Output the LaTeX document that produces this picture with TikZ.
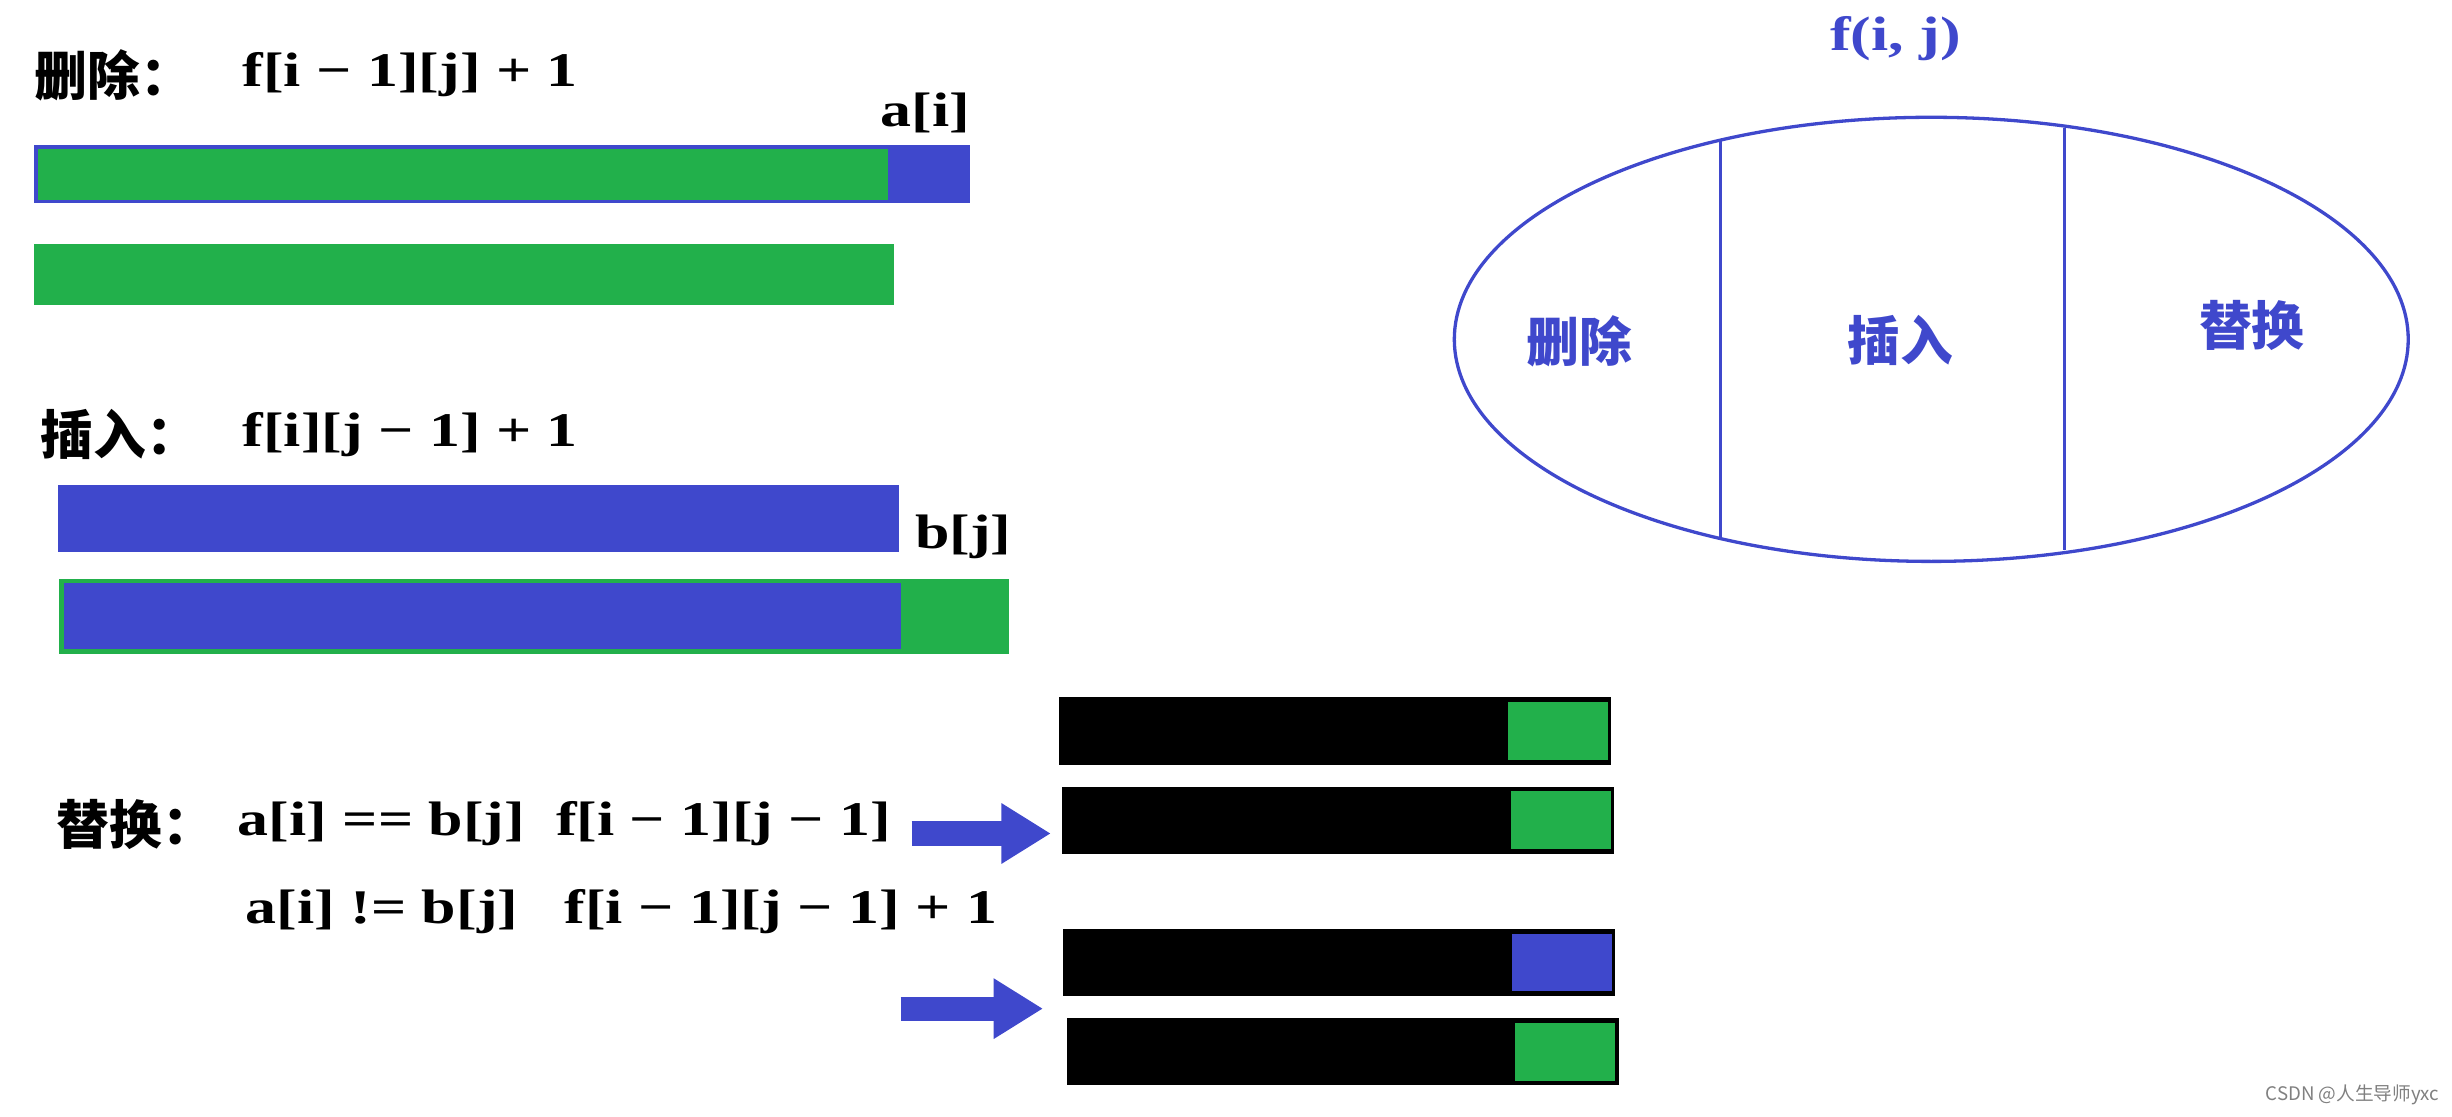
\documentclass[tikz,border=0pt]{standalone}
\usepackage{fontspec}
\setmainfont{Liberation Serif}
\newfontfamily\frm[FakeStretch=1.28]{Liberation Serif}
\newfontfamily\cjk{Noto Sans CJK SC}
\usetikzlibrary{arrows.meta}
\definecolor{gr}{HTML}{22B04B}
\definecolor{bl}{HTML}{3F48CC}
\begin{document}
\begin{tikzpicture}[x=0.05cm,y=-0.05cm,
  lab/.style={inner sep=0,anchor=west,font=\fontsize{44}{46}\selectfont\frm\bfseries},
  zh/.style={inner sep=0,anchor=west,font=\fontsize{48}{50}\selectfont\cjk\bfseries},
  bigarrow/.style={bl,line width=22,-{Triangle[length=45,width=52]}}]
\useasboundingbox (0,0) rectangle (1568,714);
% delete
\node[zh] (d1) at (22,48) {删除：};
\node[lab] (d2) at (155,48) {f[i − 1][j] + 1};
\node[lab] (ai) at (563,72) {a[i]};
\fill[gr] (22,93) rectangle (568,130);
\fill[bl] (568,93) rectangle (620,130);
\draw[bl,line width=3] (23,94) rectangle (619,129);
\fill[gr] (22,156) rectangle (572,195);
% insert
\node[zh] (i1) at (26,278) {插入：};
\node[lab] (i2) at (155,278) {f[i][j − 1] + 1};
\fill[bl] (37,310) rectangle (575,353);
\node[lab] (bj) at (585,343) {b[j]};
\fill[gr] (38,370) rectangle (645,418);
\fill[bl] (41,373) rectangle (576,415);
% replace
\node[zh] (r1) at (36,527) {替换：};
\node[lab] (r2) at (152,527) {a[i] == b[j]\ \ f[i − 1][j − 1]};
\node[lab] (r3) at (157,583) {a[i] != b[j]\ \ \ f[i − 1][j − 1] + 1};
\coordinate (a1s) at (583,533); \coordinate (a1e) at (672,533);
\coordinate (a2s) at (576,645); \coordinate (a2e) at (667,645);
\draw[bigarrow] (a1s) -- (a1e);
\draw[bigarrow] (a2s) -- (a2e);
\foreach \x/\y/\c in {677/446/gr,679/503/gr,680/594/bl,682/651/gr}{
  \fill[black] (\x,\y) rectangle (\x+353,\y+43);
  \fill[\c] (\x+287,\y+3) rectangle (\x+351,\y+40);
}
% ellipse
\draw[bl,line width=3] (1235,217) ellipse [x radius=305,y radius=142];
\draw[bl,line width=3] (1100,90) -- (1100,344);
\draw[bl,line width=3] (1320,82) -- (1320,352);
\node[zh,anchor=center,text=bl] (e1) at (1010,218) {删除};
\node[zh,anchor=center,text=bl] (e2) at (1215,218) {插入};
\node[zh,anchor=center,text=bl] (e3) at (1440,208) {替换};
\node[lab,anchor=center,text=bl] (f) at (1212,25) {f(i, j)};
\node[inner sep=0,anchor=east,text=gray,font=\fontsize{17}{19}\selectfont\cjk] (wm) at (1560,700) {CSDN @人生导师yxc};
\end{tikzpicture}
\end{document}
